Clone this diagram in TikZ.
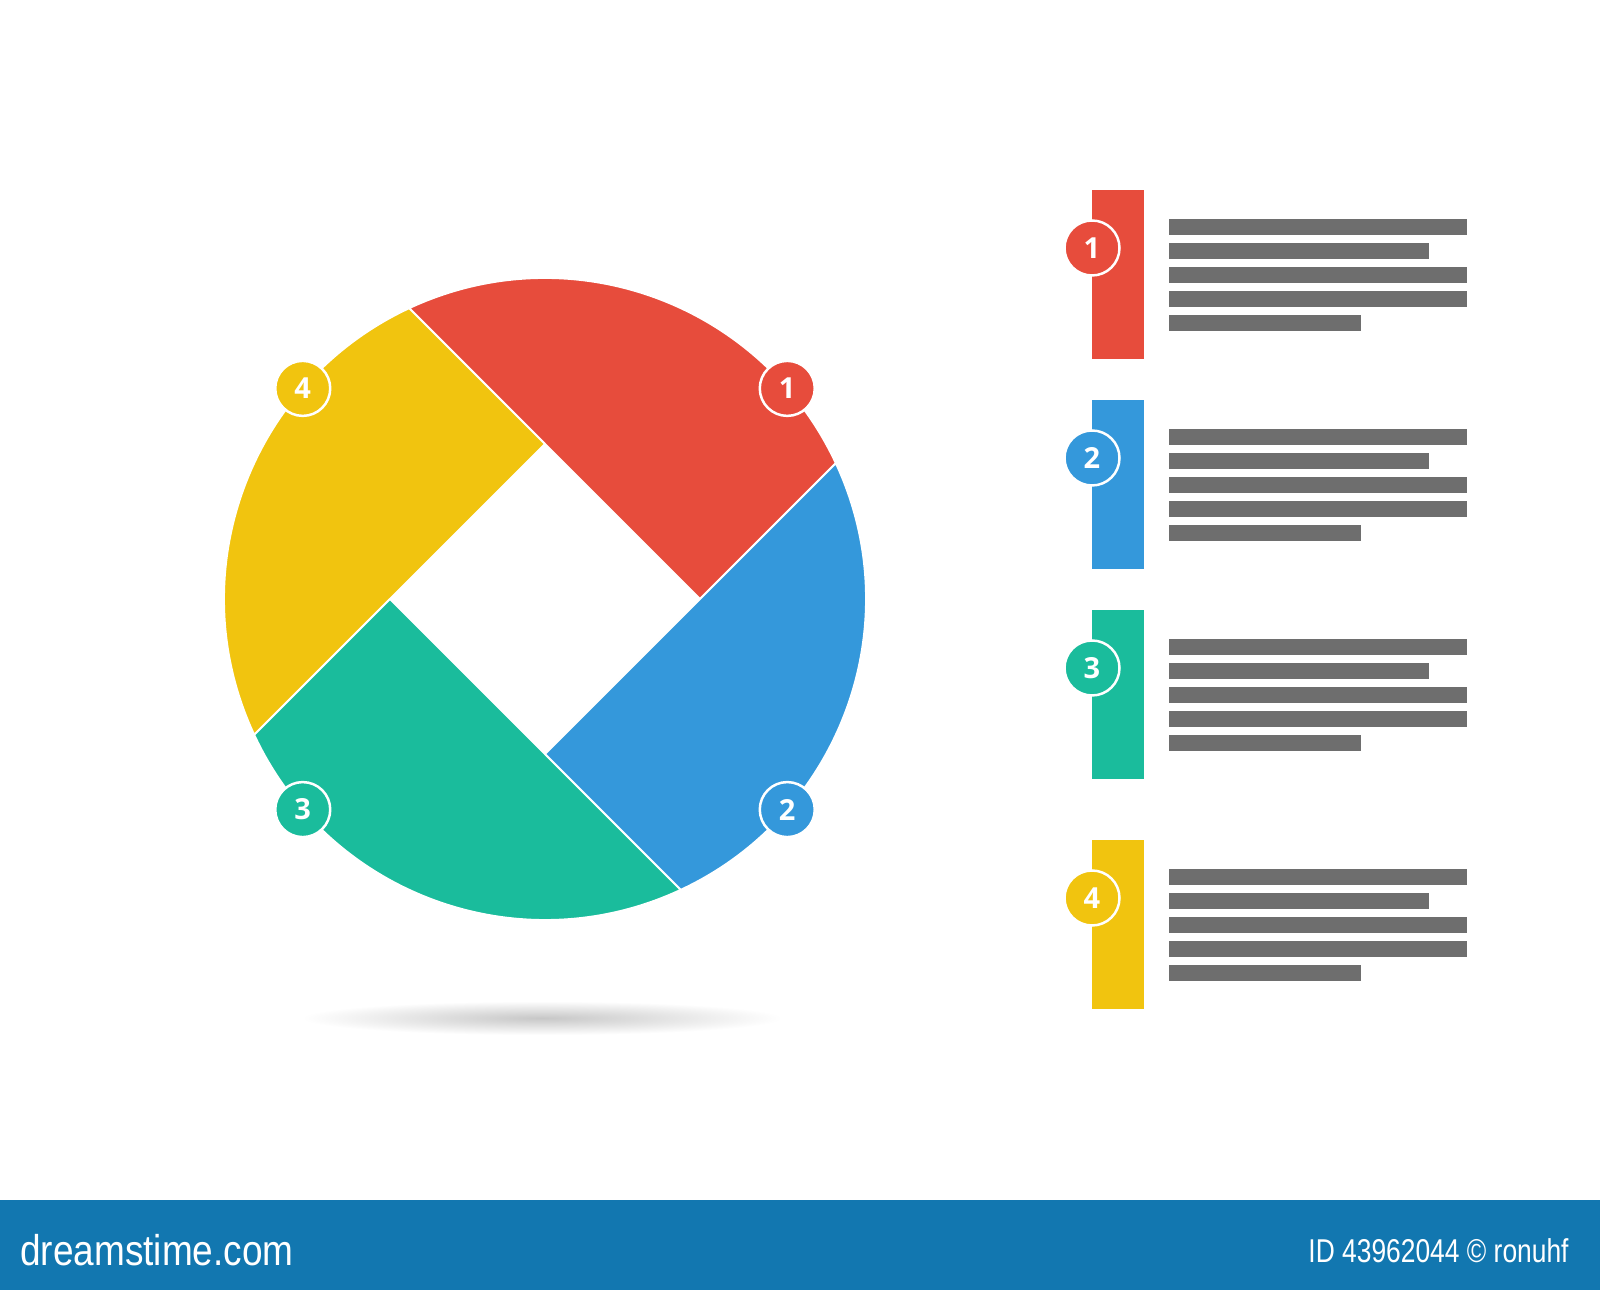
\documentclass[tikz,border=0pt]{standalone}
\usepackage{fontspec}
\setmainfont{Open Sans}
\newfontfamily\bannerfont[FakeStretch=0.8]{Liberation Sans}
\newfontfamily\logofont[FakeStretch=0.86]{Liberation Sans}
\definecolor{pzred}{HTML}{E74C3C}
\definecolor{pzblue}{HTML}{3498DB}
\definecolor{pzgreen}{HTML}{1ABC9C}
\definecolor{pzyellow}{HTML}{F1C40F}
\definecolor{txtgray}{HTML}{6E6E6E}
\definecolor{bannerblue}{HTML}{1277B0}
\tikzset{
  badge/.style={circle, draw=white, line width=1.25pt, minimum size=27.5pt, inner sep=0pt,
    text=white, font=\fontsize{14.5}{14.5}\selectfont\bfseries},
  piece/.style={draw=white, line width=1pt, line join=round},
  bannertext/.style={text=white, inner sep=0pt}
}
\begin{document}
\begin{tikzpicture}[x=.5pt, y=.5pt]
\useasboundingbox (0,0) rectangle (1600,1290);
\fill[white] (0,0) rectangle (1600,1290);
% shadow under the wheel
\shade[inner color=black!22, outer color=white] (542,272) ellipse [x radius=240, y radius=17];
% wheel
\def\ra{321}\def\sq{155}
\begin{scope}[shift={(545,691)}]
\foreach \col [count=\i from 0] in {pzred,pzyellow,pzgreen,pzblue}
  \filldraw[piece, fill=\col, rotate=90*\i] (\sq,0) -- (115.04:\ra)
    arc[start angle=115.04, end angle=25.04, radius=\ra] -- cycle;
\foreach \col/\ang/\n in {pzred/41/1, pzblue/319/2, pzgreen/221/3, pzyellow/139/4}
  \node[badge, fill=\col] (w\n) at (\ang:\ra) {\n};
\end{scope}
% legend
\foreach \col/\top [count=\n] in {pzred/1100, pzblue/890, pzgreen/680, pzyellow/450}
{
  \fill[\col] (1092,\top-169) rectangle (1144,\top);
  \node[badge, fill=\col] (l\n) at (1092,\top-58) {\n};
  \foreach \len [count=\k from 0] in {297.5,260,297.5,297.5,191.5}
    \fill[txtgray] (1169,\top-29.5-24*\k) rectangle ++(\len,-15.5);
}
% banner
\fill[bannerblue] (0,0) rectangle (1600,90);
\node[bannertext, anchor=base west, font=\logofont\fontsize{21.5}{21.5}\selectfont] (logo) at (20,25) {dreamstime.com};
\node[bannertext, anchor=base east, font=\bannerfont\fontsize{16.5}{16.5}\selectfont] (imgid) at (1569,28) {ID 43962044 © ronuhf};
\end{tikzpicture}
\end{document}
